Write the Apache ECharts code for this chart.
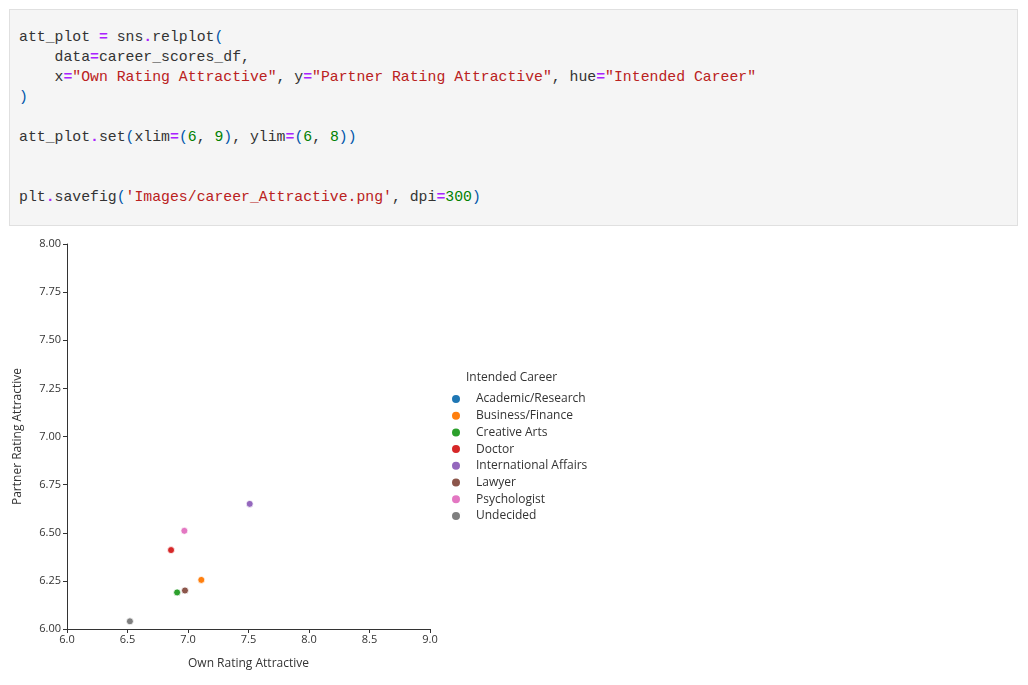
<!DOCTYPE html>
<html><head><meta charset="utf-8">
<script src="https://cdn.jsdelivr.net/npm/echarts@6/dist/echarts.min.js"></script>
<style>
body{margin:0;background:#fff;width:1028px;height:685px;overflow:hidden;position:relative}
#code{position:absolute;left:9px;top:9px;width:1009px;height:217px;background:#f5f5f5;border:1px solid #e0e0e0;box-sizing:border-box}
#code pre{margin:0;position:absolute;left:9px;top:17px;font-family:"Liberation Mono","DejaVu Sans Mono",monospace;font-size:14.8px;line-height:20px;color:#333}
.o{color:#aa22ff;font-weight:bold}.p{color:#0055aa}.s{color:#ba2121}.n{color:#008000}
#chart{position:absolute;left:0;top:0;width:1028px;height:685px}
</style></head><body>
<div id="chart"></div>
<div id="code"><pre>att_plot <span class="o">=</span> sns<span class="o">.</span>relplot<span class="p">(</span>
    data<span class="o">=</span>career_scores_df,
    x<span class="o">=</span><span class="s">"Own Rating Attractive"</span>, y<span class="o">=</span><span class="s">"Partner Rating Attractive"</span>, hue<span class="o">=</span><span class="s">"Intended Career"</span>
<span class="p">)</span>

att_plot<span class="o">.</span>set<span class="p">(</span>xlim<span class="o">=</span><span class="p">(</span><span class="n">6</span>, <span class="n">9</span><span class="p">)</span>, ylim<span class="o">=</span><span class="p">(</span><span class="n">6</span>, <span class="n">8</span><span class="p">))</span>


plt<span class="o">.</span>savefig<span class="p">(</span><span class="s">'Images/career_Attractive.png'</span>, dpi<span class="o">=</span><span class="n">300</span><span class="p">)</span></pre></div>
<script>
const careers = ["Academic/Research","Business/Finance","Creative Arts","Doctor","International Affairs","Lawyer","Psychologist","Undecided"];
const colors = ["#1f77b4","#ff7f0e","#2ca02c","#d62728","#9467bd","#8c564b","#e377c2","#7f7f7f"];
const ownRating = [null,7.11,6.91,6.86,7.51,6.975,6.97,6.52];
const partnerRating = [null,6.255,6.19,6.41,6.65,6.20,6.51,6.04];
const xTicks = [6.0,6.5,7.0,7.5,8.0,8.5,9.0];
const yTicks = [6.00,6.25,6.50,6.75,7.00,7.25,7.50,7.75,8.00];
const font = "Open Sans";
const chart = echarts.init(document.getElementById('chart'));
chart.setOption({
  animation:false,
  grid:{left:67,top:244,width:363,height:385},
  xAxis:{type:'value',min:6,max:9,interval:0.5,name:'Own Rating Attractive',nameLocation:'middle',nameGap:29,
    nameTextStyle:{fontFamily:font,fontSize:12,color:'#333'},
    axisLine:{lineStyle:{color:'#333'}},axisTick:{show:true,length:4,lineStyle:{color:'#333'}},splitLine:{show:false},
    axisLabel:{fontFamily:font,fontSize:11,color:'#333',margin:5,formatter:v=>v.toFixed(1)}},
  yAxis:{type:'value',min:6,max:8,interval:0.25,name:'Partner Rating Attractive',nameLocation:'middle',nameGap:43,
    nameTextStyle:{fontFamily:font,fontSize:12,color:'#333'},
    axisLine:{show:true,lineStyle:{color:'#333'}},axisTick:{show:true,length:4,lineStyle:{color:'#333'}},splitLine:{show:false},
    axisLabel:{fontFamily:font,fontSize:11,color:'#333',margin:6,formatter:v=>v.toFixed(2)}},
  legend:{orient:'vertical',left:445,top:388,itemGap:4.7,itemWidth:10,itemHeight:14,icon:'circle',
    textStyle:{fontFamily:font,fontSize:12,color:'#333',padding:[0,0,0,10]},data:careers},
  graphic:[{type:'text',left:466,top:372,style:{text:'Intended Career',font:'12px "Open Sans"',fill:'#333'}}],
  series:careers.map((c,i)=>({name:c,type:'scatter',symbolSize:7,
    itemStyle:{color:colors[i],opacity:1,borderColor:'#fff',borderWidth:0.8},
    data: ownRating[i]==null?[]:[[ownRating[i],partnerRating[i]]]}))
});
</script>
</body></html>
